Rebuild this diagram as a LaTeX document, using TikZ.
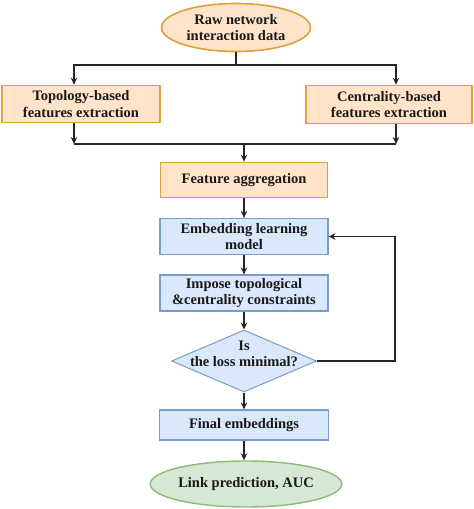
\documentclass[tikz,border=0pt]{standalone}
\usepackage{fontspec}
\setmainfont{Liberation Serif}
\usetikzlibrary{shapes.geometric,arrows.meta}
\definecolor{ofill}{HTML}{FFE4CA}
\definecolor{odraw}{HTML}{D9A23A}
\definecolor{bfill}{HTML}{DAE8FC}
\definecolor{bdraw}{HTML}{7B9CCB}
\definecolor{gfill}{HTML}{D5E8D4}
\definecolor{gdraw}{HTML}{8DBB74}
\begin{document}
\begin{tikzpicture}[x=1pt,y=-1pt,
  every node/.style={font=\fontsize{14.5}{16.5}\selectfont\bfseries, align=center, inner sep=0pt, text=black!90},
  obox/.style={rectangle, draw=odraw, fill=ofill, line width=1.6pt},
  bbox/.style={rectangle, draw=bdraw, fill=bfill, line width=1.2pt},
  oell/.style={ellipse, draw=odraw, fill=ofill, line width=1.6pt},
  gell/.style={ellipse, draw=gdraw, fill=gfill, line width=1.4pt},
  ddia/.style={diamond, draw=bdraw, fill=bfill, line width=1.0pt},
  arr/.style={-{Stealth[length=7pt,width=6.5pt]}, line width=1.5pt, black!85},
  ln/.style={line width=1.5pt, black!85}]
\useasboundingbox (0,0) rectangle (474,509);

\node[oell, minimum width=149pt, minimum height=48pt] (raw) at (236,27.5) {Raw network\\interaction data};
\node[obox, minimum width=158pt, minimum height=37pt] (topo) at (81,104) {Topology-based\\features extraction};
\node[obox, minimum width=166pt, minimum height=38pt] (cent) at (389,104.5) {Centrality-based\\features extraction};
\node[obox, minimum width=167pt, minimum height=35pt] (agg) at (244,180) {Feature aggregation};
\node[bbox, minimum width=168pt, minimum height=36pt] (emb) at (244,236.5) {Embedding learning\\model};
\node[bbox, minimum width=168pt, minimum height=36pt] (imp) at (244,293) {Impose topological\\\&centrality constraints};
\node[ddia, minimum width=145pt, minimum height=62pt,
  label={[yshift=7pt, align=center]center:Is\\the loss minimal?}] (dia) at (244,361) {};
\node[bbox, minimum width=169pt, minimum height=30pt] (fin) at (244,425) {Final embeddings};
\node[gell, minimum width=149pt, minimum height=46pt] (link) at (246,484) {Link prediction, AUC};

\coordinate (split) at (236,65);
\coordinate (merge) at (244,144);

\draw[ln] (raw.south) -- (split);
\draw[arr] (split) -| ([xshift=-7pt]topo.north);
\draw[arr] (split) -| ([xshift=7pt]cent.north);
\draw[arr] ([xshift=-7pt]topo.south) -- ([xshift=-7pt]topo.south |- merge);
\draw[arr] ([xshift=7pt]cent.south) -- ([xshift=7pt]cent.south |- merge);
\draw[ln] ([xshift=-7pt]topo.south |- merge) -- ([xshift=7pt]cent.south |- merge);
\draw[arr] (merge) -- (agg.north);
\draw[arr] (agg) -- (emb);
\draw[arr] (emb) -- (imp);
\draw[arr] (imp) -- (dia);
\draw[arr] (dia) -- (fin);
\draw[arr] (fin.south) -- (link.north -| fin.south);
\draw[arr] (dia.east) -- ++(78,0) |- (emb.east);
\end{tikzpicture}
\end{document}
